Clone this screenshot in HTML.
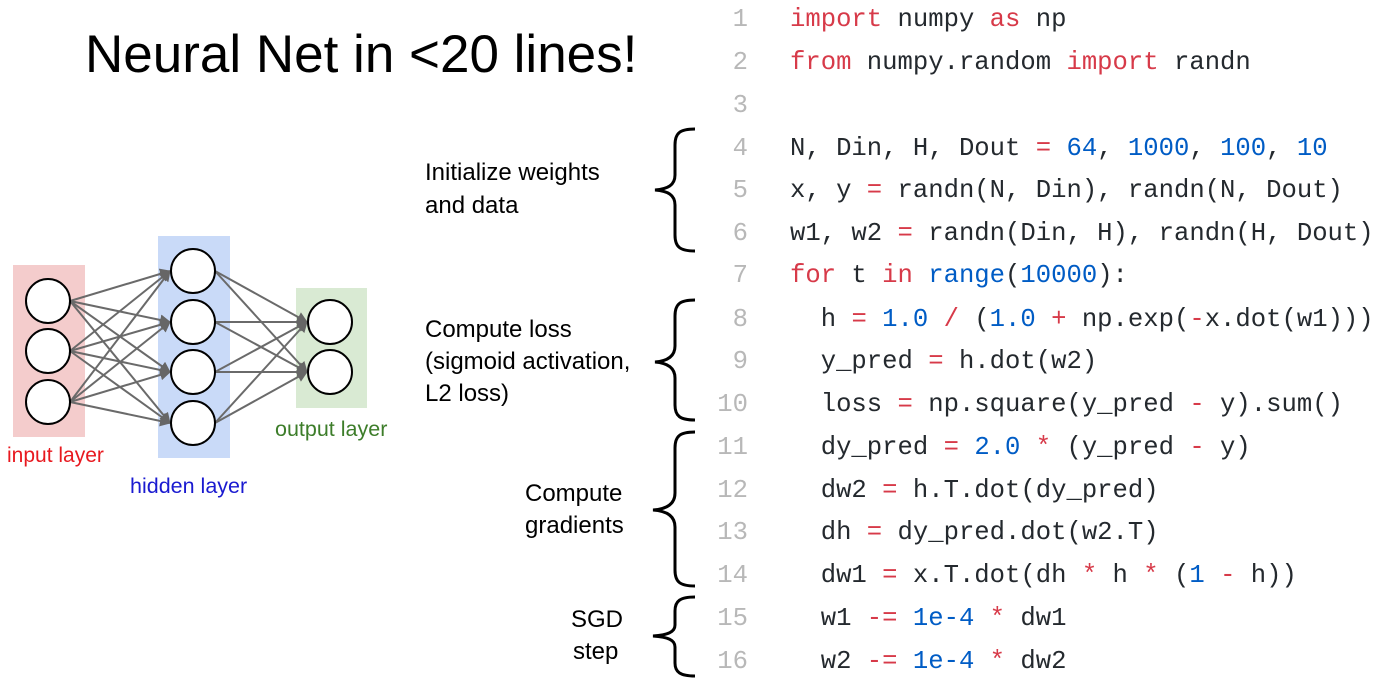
<!DOCTYPE html>
<html><head><meta charset="utf-8"><style>
body{margin:0;width:1379px;height:684px;background:#fff;position:relative;overflow:hidden;font-family:"Liberation Sans",sans-serif}
.t{position:absolute;white-space:pre}
.code{position:absolute;left:0;font-family:"Liberation Mono",monospace;font-size:25.6px;color:#24292e;white-space:pre;line-height:30px}
.n{position:absolute;width:748px;text-align:right;color:#b8b8b8}
.c{position:absolute;left:790px}
.k{color:#d73a49}.b{color:#005cc5}
.lab{position:absolute;font-size:24px;color:#000;line-height:33px;white-space:pre}
</style></head><body>
<div class="t" style="left:85px;top:24px;font-size:53px;color:#000">Neural Net in &lt;20 lines!</div>

<svg width="1379" height="684" style="position:absolute;left:0;top:0">
<rect x="13" y="265" width="72" height="172" fill="#f4cccc"/>
<rect x="158" y="236" width="72" height="222" fill="#c9daf8"/>
<rect x="296" y="288" width="71" height="120" fill="#d9ead3"/>
<defs><marker id="a" markerWidth="11" markerHeight="11" refX="10" refY="5.5" orient="auto" markerUnits="userSpaceOnUse"><path d="M0,0 L11,5.5 L0,11z" fill="#666"/></marker></defs>
<g stroke="#6a6a6a" stroke-width="2" marker-end="url(#a)">
<line x1="70" y1="301" x2="170" y2="271"/><line x1="70" y1="301" x2="170" y2="322"/><line x1="70" y1="301" x2="170" y2="372"/><line x1="70" y1="301" x2="170" y2="423"/>
<line x1="70" y1="351" x2="170" y2="271"/><line x1="70" y1="351" x2="170" y2="322"/><line x1="70" y1="351" x2="170" y2="372"/><line x1="70" y1="351" x2="170" y2="423"/>
<line x1="70" y1="402" x2="170" y2="271"/><line x1="70" y1="402" x2="170" y2="322"/><line x1="70" y1="402" x2="170" y2="372"/><line x1="70" y1="402" x2="170" y2="423"/>
<line x1="215" y1="271" x2="307" y2="322"/><line x1="215" y1="271" x2="307" y2="372"/>
<line x1="215" y1="322" x2="307" y2="322"/><line x1="215" y1="322" x2="307" y2="372"/>
<line x1="215" y1="372" x2="307" y2="322"/><line x1="215" y1="372" x2="307" y2="372"/>
<line x1="215" y1="423" x2="307" y2="322"/><line x1="215" y1="423" x2="307" y2="372"/>
</g>
<g fill="#fff" stroke="#000" stroke-width="2">
<circle cx="48" cy="301" r="22"/><circle cx="48" cy="351" r="22"/><circle cx="48" cy="402" r="22"/>
<circle cx="193" cy="271" r="22"/><circle cx="193" cy="322" r="22"/><circle cx="193" cy="372" r="22"/><circle cx="193" cy="423" r="22"/>
<circle cx="330" cy="322" r="22"/><circle cx="330" cy="372" r="22"/>
</g>
<g fill="none" stroke="#000" stroke-width="3">
<path d="M695,129 C680,129 675,133 675,145 L675,175 C675,185 668,189 655,190 C668,191 675,195 675,205 L675,235 C675,247 680,251 695,251"/>
<path d="M695,300 C680,300 675,304 675,316 L675,346 C675,356 668,361 655,362 C668,363 675,368 675,378 L675,405 C675,416 680,420 695,420"/>
<path d="M695,432 C680,432 675,436 675,448 L675,493 C675,503 668,509 653,510 C668,511 675,517 675,527 L675,570 C675,582 680,586 695,586"/>
<path d="M695,597 C680,597 675,601 675,611 L675,625 C675,632 668,635 653,636 C668,637 675,640 675,647 L675,663 C675,672 680,676 695,676"/>
</g>
</svg>
<div class="t" style="left:7px;top:444px;font-size:21px;color:#e8191f">input layer</div>
<div class="t" style="left:130px;top:474px;font-size:21.5px;color:#1a1ad0">hidden layer</div>
<div class="t" style="left:275px;top:417px;font-size:21.5px;color:#3d7d2a">output layer</div>

<div class="lab" style="left:425px;top:156px">Initialize weights
and data</div>
<div class="lab" style="left:425px;top:314px;line-height:32px">Compute loss
(sigmoid activation,
L2 loss)</div>
<div class="lab" style="left:525px;top:478px;line-height:32px">Compute
gradients</div>
<div class="lab" style="left:571px;top:604px;line-height:32px">SGD</div>
<div class="lab" style="left:573px;top:636px;line-height:32px">step</div>

<div class="code" style="top:5px"><span class="n">1</span><span class="c"><span class="k">import</span> numpy <span class="k">as</span> np</span></div>
<div class="code" style="top:48px"><span class="n">2</span><span class="c"><span class="k">from</span> numpy.random <span class="k">import</span> randn</span></div>
<div class="code" style="top:91px"><span class="n">3</span></div>
<div class="code" style="top:134px"><span class="n">4</span><span class="c">N, Din, H, Dout <span class="k">=</span> <span class="b">64</span>, <span class="b">1000</span>, <span class="b">100</span>, <span class="b">10</span></span></div>
<div class="code" style="top:176px"><span class="n">5</span><span class="c">x, y <span class="k">=</span> randn(N, Din), randn(N, Dout)</span></div>
<div class="code" style="top:219px"><span class="n">6</span><span class="c">w1, w2 <span class="k">=</span> randn(Din, H), randn(H, Dout)</span></div>
<div class="code" style="top:261px"><span class="n">7</span><span class="c"><span class="k">for</span> t <span class="k">in</span> <span class="b">range</span>(<span class="b">10000</span>):</span></div>
<div class="code" style="top:305px"><span class="n">8</span><span class="c">  h <span class="k">=</span> <span class="b">1.0</span> <span class="k">/</span> (<span class="b">1.0</span> <span class="k">+</span> np.exp(<span class="k">-</span>x.dot(w1)))</span></div>
<div class="code" style="top:347px"><span class="n">9</span><span class="c">  y_pred <span class="k">=</span> h.dot(w2)</span></div>
<div class="code" style="top:390px"><span class="n">10</span><span class="c">  loss <span class="k">=</span> np.square(y_pred <span class="k">-</span> y).sum()</span></div>
<div class="code" style="top:433px"><span class="n">11</span><span class="c">  dy_pred <span class="k">=</span> <span class="b">2.0</span> <span class="k">*</span> (y_pred <span class="k">-</span> y)</span></div>
<div class="code" style="top:476px"><span class="n">12</span><span class="c">  dw2 <span class="k">=</span> h.T.dot(dy_pred)</span></div>
<div class="code" style="top:518px"><span class="n">13</span><span class="c">  dh <span class="k">=</span> dy_pred.dot(w2.T)</span></div>
<div class="code" style="top:561px"><span class="n">14</span><span class="c">  dw1 <span class="k">=</span> x.T.dot(dh <span class="k">*</span> h <span class="k">*</span> (<span class="b">1</span> <span class="k">-</span> h))</span></div>
<div class="code" style="top:604px"><span class="n">15</span><span class="c">  w1 <span class="k">-=</span> <span class="b">1e-4</span> <span class="k">*</span> dw1</span></div>
<div class="code" style="top:647px"><span class="n">16</span><span class="c">  w2 <span class="k">-=</span> <span class="b">1e-4</span> <span class="k">*</span> dw2</span></div>
</body></html>
